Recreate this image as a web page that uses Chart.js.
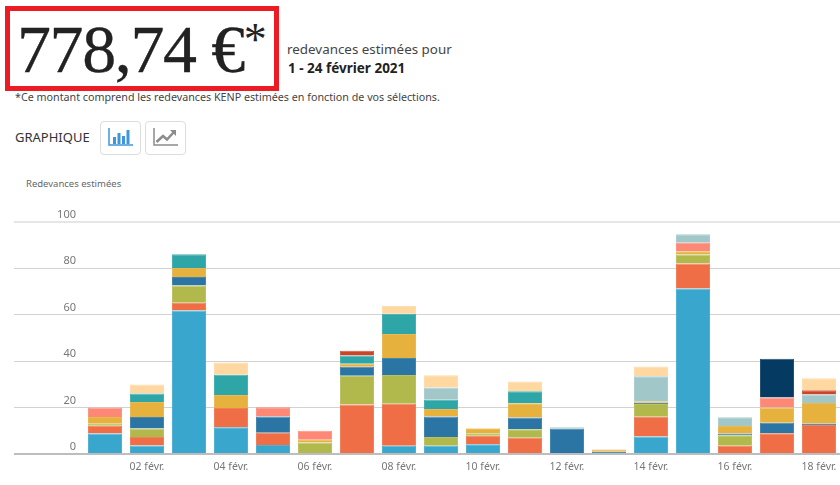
<!DOCTYPE html>
<html lang="fr">
<head>
<meta charset="utf-8">
<title>Redevances</title>
<script src="https://cdn.jsdelivr.net/npm/chart.js@4"></script>
<style>
  html, body { margin: 0; padding: 0; background: #fff; overflow: hidden; }
  body { width: 840px; height: 485px; position: relative; font-family: "Noto Sans", sans-serif; color: #333; }
  .abs { position: absolute; white-space: nowrap; }
  #box { left: 5px; top: 6px; width: 264px; height: 75px; border: 5px solid #ed1c24; }
  #amount { left: 17px; top: 7px; font: 68px/85px "Liberation Serif", serif; color: #222; letter-spacing: -1.4px; -webkit-text-stroke: 0.3px #222; }
  #amount sup { font-size: 46px; line-height: 0; vertical-align: 17px; margin-left: 0; -webkit-text-stroke: 0; }
  #l1 { left: 287px; top: 40px; font-size: 13.4px; line-height: 18px; color: #444; }
  #l2 { left: 288px; top: 59px; font-size: 13.5px; line-height: 18px; font-weight: 700; color: #222; }
  #note { left: 15px; top: 90px; font-size: 10.72px; line-height: 14px; color: #444; }
  #graph { left: 15px; top: 128px; font-size: 13px; line-height: 18px; color: #333; }
  .btn { top: 121px; width: 39px; height: 32px; border: 1px solid #ddd; border-radius: 4px; }
  #btnBar { left: 100px; }
  #btnLine { left: 145px; }
  .btn svg { position: absolute; left: 7px; top: 5px; }
  #ytitle { left: 26px; top: 177px; font-size: 9.5px; line-height: 14px; color: #666; }
  #chart { position: absolute; left: 0; top: 200px; }
</style>
</head>
<body>
<div id="box" class="abs"></div>
<div id="amount" class="abs">778,74 €<sup>*</sup></div>
<div id="l1" class="abs">redevances estimées pour</div>
<div id="l2" class="abs">1 - 24 février 2021</div>
<div id="note" class="abs">*Ce montant comprend les redevances KENP estimées en fonction de vos sélections.</div>
<div id="graph" class="abs">GRAPHIQUE</div>
<div id="btnBar" class="abs btn">
  <svg width="26" height="22" viewBox="0 0 26 22">
    <path d="M1 1V18H25" fill="none" stroke="#3f96d8" stroke-width="1.5"/>
    <path d="M5 10h3v7H5zM9.500 6h3v11h-3zM14 9h3v8h-3zM18.500 3h3v14h-3z" fill="#3f96d8"/>
  </svg>
</div>
<div id="btnLine" class="abs btn">
  <svg width="26" height="22" viewBox="0 0 26 22">
    <path d="M1 1V18H25" fill="none" stroke="#8c8c8c" stroke-width="1.500"/>
    <path d="M3.500 15L10 9l4 3.500L21 5" fill="none" stroke="#8c8c8c" stroke-width="2.500"/>
    <path d="M17 3h6v6z" fill="#8c8c8c"/>
  </svg>
</div>
<div id="ytitle" class="abs">Redevances estimées</div>
<canvas id="chart" width="840" height="285"></canvas>

<script>
const days = ["01 févr.", "02 févr.", "03 févr.", "04 févr.", "05 févr.", "06 févr.", "07 févr.", "08 févr.", "09 févr.",
  "10 févr.", "11 févr.", "12 févr.", "13 févr.", "14 févr.", "15 févr.", "16 févr.", "17 févr.", "18 févr."];
const yTicks = [0, 20, 40, 60, 80, 100];

// one list per book, stacked bottom to top
const blue = [8.8, 3.7, 61.8, 11.5, 3.9, null, null, 3.6, 3.6, 4.2, null, null, null, 7.5, 71.3, null, null, null];
const orange = [3.4, 3.6, 3.4, 8.3, 5.3, null, 21.3, 18.1, null, 3.7, 7, null, null, 8.6, 10.8, 3.6, 8.9, 12.5];
const olive = [0.8, 3.7, 7.4, null, null, 5, 12.4, 12.4, 3.7, 1, 3.7, null, null, 5.5, 3.9, 4.5, null, null];
const darkBlue = [null, 4.9, 3.7, null, 7, null, 3.9, 7.3, 8.9, null, 5, 10.9, 1, 0.5, null, 0.7, 4.6, 0.6];
const yellow = [3, 6.5, 3.9, 5.6, null, 1.1, 1.3, 10.3, 3.2, 1.9, 6.2, null, 0.9, 0.6, 1.4, 3.3, 6.5, 8.9];
const teal = [null, 3.7, 5.9, 8.8, null, null, 3.6, 8.8, 4, null, 5.2, null, null, null, null, null, null, null];
const salmon = [4, null, null, null, 4, 3.9, null, null, null, null, null, null, null, null, 3.7, null, 4.3, null];
const paleTeal = [null, null, null, null, null, null, null, null, 5.3, null, null, 0.6, null, 10.8, 3.6, 3.7, null, 3.6];
const red = [null, null, null, null, null, null, 2, null, null, null, null, null, null, null, null, null, null, 1.9];
const peach = [null, 3.9, null, 5.2, null, null, null, 3.3, 5.2, 0.4, 4.2, null, 0.2, 4.2, null, null, null, 5.2];
const navy = [null, null, null, null, null, null, null, null, null, null, null, null, null, null, null, null, 16.8, null];

const makeSet = (data, color) => ({
  data: data,
  backgroundColor: color,
  borderColor: color + "e0",
  borderWidth: 1,
  barPercentage: 0.81,
  categoryPercentage: 1,
});

new Chart(document.querySelector("#chart"), {
  type: "bar",
  data: {
    labels: days,
    datasets: [
      makeSet(blue, "#39a6ce"),
      makeSet(orange, "#ef6e45"),
      makeSet(olive, "#b2b94c"),
      makeSet(darkBlue, "#2a75a4"),
      makeSet(yellow, "#e6b13d"),
      makeSet(teal, "#2ea6a8"),
      makeSet(salmon, "#fd8876"),
      makeSet(paleTeal, "#a1c7c9"),
      makeSet(red, "#cc4526"),
      makeSet(peach, "#ffd7a0"),
      makeSet(navy, "#053b62"),
    ],
  },
  options: {
    responsive: false,
    animation: false,
    layout: { padding: { top: 22, right: 0, bottom: 0, left: 0 } },
    plugins: { legend: { display: false }, tooltip: { enabled: false } },
    scales: {
      x: {
        stacked: true,
        afterFit: (scale) => { scale.height = 31; },
        border: { display: false },
        grid: { display: false },
        ticks: {
          autoSkip: false,
          maxRotation: 0,
          padding: -1,
          color: "#777",
          font: { family: "Noto Sans", size: 10.5 },
          callback: (value, i) => (i % 2 === 1 ? days[i] : ""),
        },
      },
      y: {
        stacked: true,
        min: 0,
        max: 100,
        afterFit: (scale) => { scale.width = 84; },
        afterBuildTicks: (scale) => { scale.ticks = yTicks.map((v) => ({ value: v })); },
        border: { display: false },
        grid: {
          tickLength: 70,
          color: (ctx) => (ctx.tick.value === 0 ? "#bdbdbd" : ctx.tick.value === 100 ? "#e6e6e6" : "#d2d2d2"),
          lineWidth: (ctx) => (ctx.tick.value === 0 || ctx.tick.value === 100 ? 2 : 1),
        },
        ticks: {
          padding: -62,
          color: "#777",
          font: { family: "Noto Sans", size: 11, lineHeight: 1.3 },
          // the empty second line lifts the label above its grid line
          callback: (value) => [String(value), ""],
        },
      },
    },
  },
});
</script>
</body>
</html>
